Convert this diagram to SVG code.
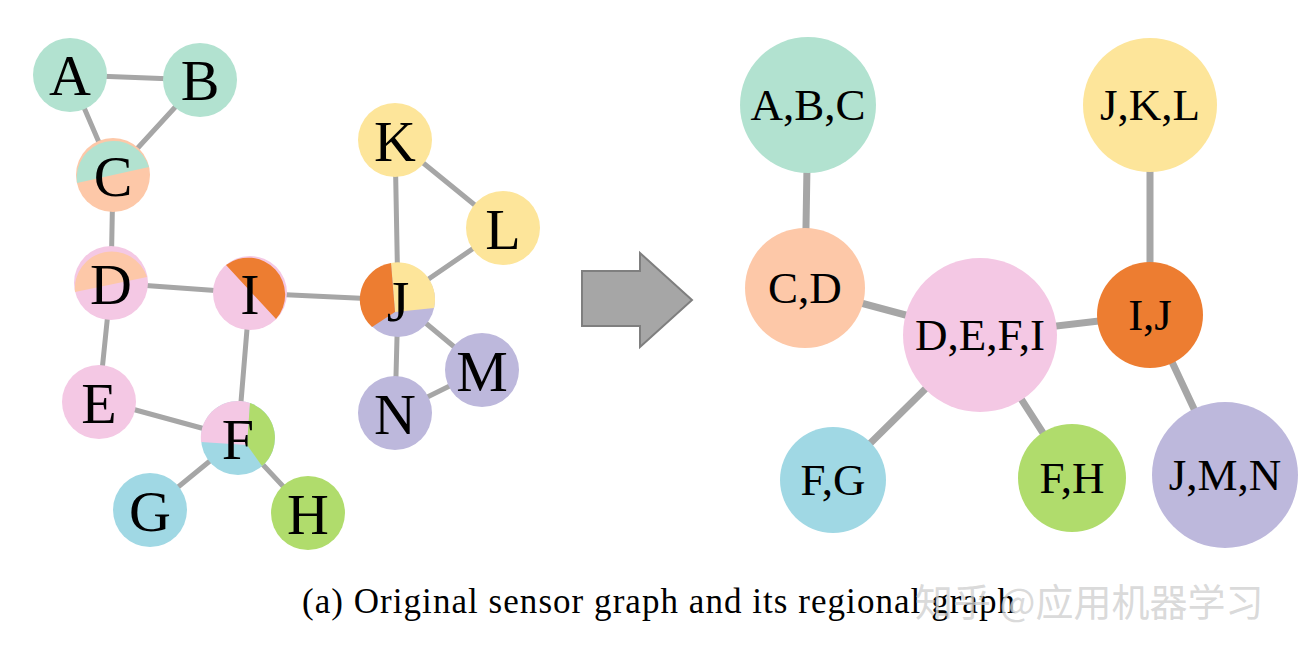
<svg xmlns="http://www.w3.org/2000/svg" width="1312" height="658" viewBox="0 0 1312 658">
<style>
.e{stroke:#a6a6a6;stroke-width:5;fill:none}
.e2{stroke:#a6a6a6;stroke-width:7;fill:none}
.t{font-family:"Liberation Serif",serif;fill:#000;text-anchor:middle}
.s{font-size:58px}
.b{font-size:45px}
</style>
<rect width="1312" height="658" fill="#fff"/>
<g id="connectors">
<path class="e" d="M70 75L200 80M70 75L113 175M200 80L113 175M113 175L111 283M111 283L250 293M111 283L99 400M250 293L398 300M250 293L238 438M99 400L238 438M238 438L150 510M238 438L308 513M398 300L395 140M395 140L503 228M503 228L398 300M398 300L482 370M398 300L395 413M395 413L482 370"/>
<path class="e2" d="M808 105L805 288M805 288L980 335M980 335L1150 315M1150 315L1150 105M980 335L833 480M980 335L1072 478M1150 315L1225 475"/>
</g>
<g id="A"><circle cx="70" cy="75" r="37" fill="#b2e2d0"/><text class="t s" x="70" y="95">A</text></g>
<g id="B"><circle cx="200" cy="80" r="37" fill="#b2e2d0"/><text class="t s" x="200" y="100">B</text></g>
<g id="C"><circle cx="113" cy="175" r="37" fill="#fdc8a8"/><path d="M77 183L149 167A37 37 0 0 0 77 183Z" fill="#b2e2d0"/><text class="t s" x="113" y="196">C</text></g>
<g id="D"><circle cx="111" cy="283" r="37" fill="#f4c8e4"/><path d="M75 292L147 277A37 37 0 0 0 75 292Z" fill="#fdc8a8"/><text class="t s" x="111" y="304">D</text></g>
<g id="E"><circle cx="99" cy="402" r="37" fill="#f4c8e4"/><text class="t s" x="99" y="423">E</text></g>
<g id="I"><circle cx="250" cy="293" r="37" fill="#f4c8e4"/><path d="M226 265L276 319A37 37 0 0 0 226 265Z" fill="#ed7d31"/><text class="t s" x="250" y="314">I</text></g>
<g id="J"><circle cx="398" cy="300" r="37" fill="#bdb8dc"/><path d="M395 312L391 263A37 37 0 0 1 434 308Z" fill="#fde59a"/><path d="M395 312L391 263A37 37 0 0 0 372 327Z" fill="#ed7d31"/><text class="t s" x="398" y="321">J</text></g>
<g id="K"><circle cx="395" cy="140" r="37" fill="#fde59a"/><text class="t s" x="395" y="161">K</text></g>
<g id="L"><circle cx="503" cy="228" r="37" fill="#fde59a"/><text class="t s" x="503" y="249">L</text></g>
<g id="M"><circle cx="482" cy="370" r="37" fill="#bdb8dc"/><text class="t s" x="482" y="391">M</text></g>
<g id="N"><circle cx="395" cy="413" r="37" fill="#bdb8dc"/><text class="t s" x="395" y="434">N</text></g>
<g id="F"><circle cx="238" cy="438" r="37" fill="#a0d8e4"/><path d="M247 445L250 403A37 37 0 0 0 201 442Z" fill="#f4c8e4"/><path d="M247 445L250 403A37 37 0 0 1 262 466Z" fill="#b0dc6c"/><text class="t s" x="238" y="459">F</text></g>
<g id="G"><circle cx="150" cy="510" r="37" fill="#a0d8e4"/><text class="t s" x="150" y="531">G</text></g>
<g id="H"><circle cx="308" cy="513" r="37" fill="#b0dc6c"/><text class="t s" x="308" y="534">H</text></g>
<g id="arrow"><path d="M582 271H640V253L692 300L640 347V326H582Z" fill="#a6a6a6" stroke="#7f7f7f" stroke-width="2"/></g>
<g id="ABC"><circle cx="808" cy="105" r="68" fill="#b2e2d0"/><text class="t b" x="808" y="120">A,B,C</text></g>
<g id="CD"><circle cx="805" cy="288" r="60" fill="#fdc8a8"/><text class="t b" x="805" y="303">C,D</text></g>
<g id="DEFI"><circle cx="980" cy="335" r="77" fill="#f4c8e4"/><text class="t b" x="980" y="350">D,E,F,I</text></g>
<g id="IJ"><circle cx="1150" cy="315" r="53" fill="#ed7d31"/><text class="t b" x="1150" y="330">I,J</text></g>
<g id="JKL"><circle cx="1150" cy="105" r="67" fill="#fde59a"/><text class="t b" x="1150" y="120">J,K,L</text></g>
<g id="FG"><circle cx="833" cy="480" r="53" fill="#a0d8e4"/><text class="t b" x="833" y="495">F,G</text></g>
<g id="FH"><circle cx="1072" cy="478" r="54" fill="#b0dc6c"/><text class="t b" x="1072" y="493">F,H</text></g>
<g id="JMN"><circle cx="1225" cy="475" r="73" fill="#bdb8dc"/><text class="t b" x="1225" y="490">J,M,N</text></g>
<text class="t" x="302" y="613" textLength="713" lengthAdjust="spacing" style="font-size:35px;text-anchor:start">(a)  Original sensor graph and its regional graph</text>
<text x="915" y="616" style="font-family:'Noto Sans CJK SC',sans-serif;font-size:38px;fill:#d0d0d0;fill-opacity:0.8">知乎 @应用机器学习</text>
</svg>
